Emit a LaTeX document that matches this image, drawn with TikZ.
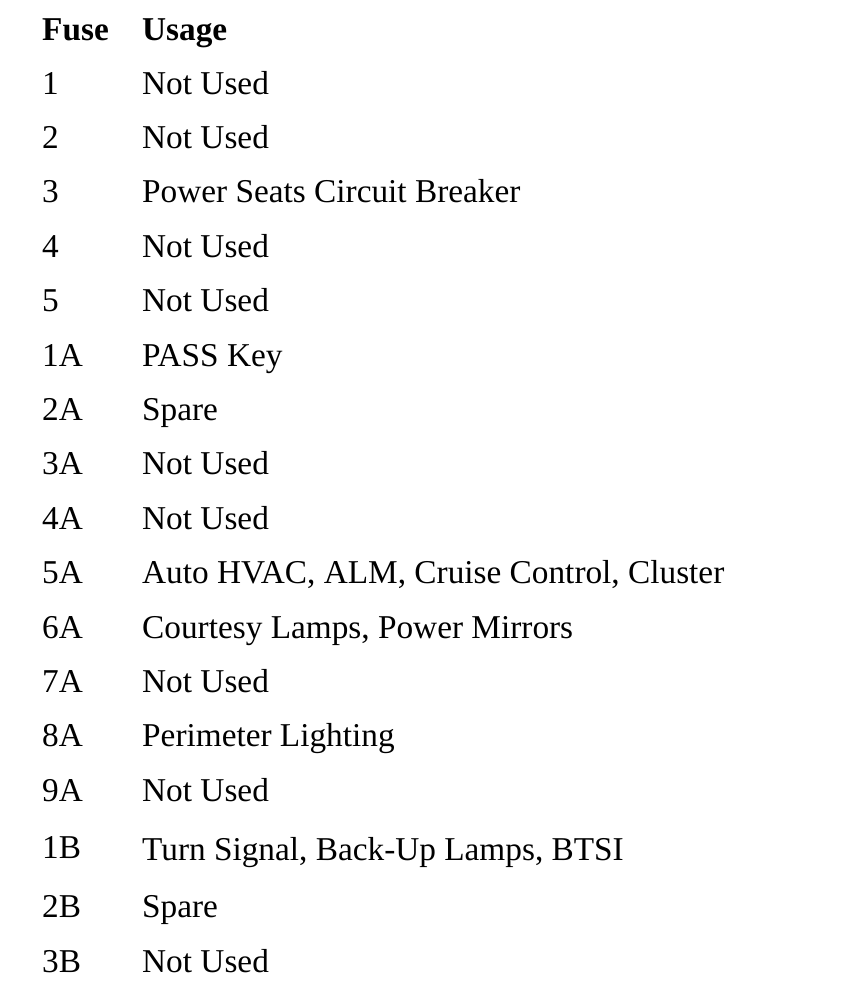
\documentclass[tikz,border=0pt]{standalone}
\usepackage{fontspec}
\setmainfont{Liberation Serif}
\begin{document}
\begin{tikzpicture}[x=1pt, y=-1pt]
\tikzset{cell/.style={anchor=base west, inner sep=0pt, font=\fontsize{33.3}{38}\selectfont}}
\useasboundingbox (0,0) rectangle (851,997);
\begin{scope}[every node/.style={cell}]
    \node (hfuse)  at (42,40) {\textbf{Fuse}};
    \node (husage) at (142,40) {\textbf{Usage}};
    \node (f1)  at (42,94)  {1};   \node (u1)  at (142,94)  {Not Used};
    \node (f2)  at (42,148) {2};   \node (u2)  at (142,148) {Not Used};
    \node (f3)  at (42,202) {3};   \node (u3)  at (142,202) {Power Seats Circuit Breaker};
    \node (f4)  at (42,257) {4};   \node (u4)  at (142,257) {Not Used};
    \node (f5)  at (42,311) {5};   \node (u5)  at (142,311) {Not Used};
    \node (f1a) at (42,366) {1A};  \node (u1a) at (142,366) {PASS Key};
    \node (f2a) at (42,420) {2A};  \node (u2a) at (142,420) {Spare};
    \node (f3a) at (42,474) {3A};  \node (u3a) at (142,474) {Not Used};
    \node (f4a) at (42,529) {4A};  \node (u4a) at (142,529) {Not Used};
    \node (f5a) at (42,583) {5A};  \node (u5a) at (142,583) {Auto HVAC, ALM, Cruise Control, Cluster};
    \node (f6a) at (42,638) {6A};  \node (u6a) at (142,638) {Courtesy Lamps, Power Mirrors};
    \node (f7a) at (42,692) {7A};  \node (u7a) at (142,692) {Not Used};
    \node (f8a) at (42,746) {8A};  \node (u8a) at (142,746) {Perimeter Lighting};
    \node (f9a) at (42,801) {9A};  \node (u9a) at (142,801) {Not Used};
    \node (f1b) at (42,858) {1B};  \node (u1b) at (142,860) {Turn Signal, Back-Up Lamps, BTSI};
    \node (f2b) at (42,917) {2B};  \node (u2b) at (142,917) {Spare};
    \node (f3b) at (42,972) {3B};  \node (u3b) at (142,972) {Not Used};
\end{scope}
\end{tikzpicture}
\end{document}
